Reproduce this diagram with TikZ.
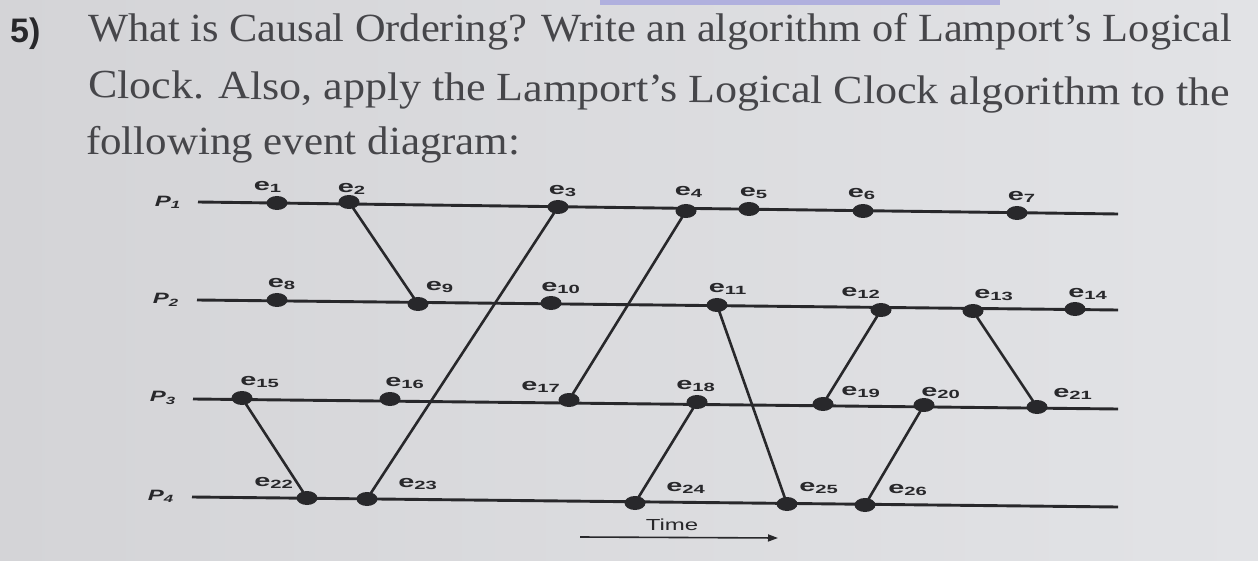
\documentclass[tikz,border=0pt]{standalone}
\usepackage{fontspec}
\usepackage{graphicx}
\setmainfont{Liberation Serif}
\setsansfont{Liberation Sans}
\usetikzlibrary{shapes.geometric,arrows.meta}
\pgfdeclarelayer{paperlayer}
\pgfdeclarelayer{bg}
\pgfsetlayers{paperlayer,bg,main}
\definecolor{paper}{RGB}{212,212,215}
\definecolor{paperR}{RGB}{226,227,230}
\definecolor{ink}{RGB}{40,40,43}
\definecolor{titleink}{RGB}{70,70,74}
\definecolor{lav}{RGB}{176,176,222}
\newcommand\evl[1]{\scalebox{1.7}[1]{e\textsubscript{#1}}}
\newcommand\prl[1]{\scalebox{1.6}[1]{\itshape P\textsubscript{#1}}}
\tikzset{
  dot/.style={ellipse,fill=ink,minimum width=21pt,minimum height=14pt,inner sep=0pt},
  evlab/.style={font=\sffamily\bfseries\fontsize{17}{17}\selectfont,text=ink,inner sep=0pt},
  plab/.style={font=\sffamily\bfseries\fontsize{15}{15}\selectfont,text=ink,inner sep=0pt},
  proc/.style={draw=ink,line width=2.9pt},
  msg/.style={draw=ink,line width=2.6pt},
  ttl/.style={anchor=base west,inner sep=0pt,text=titleink,font=\fontsize{40}{40}\selectfont}
}
\begin{document}
\begin{tikzpicture}[x=1pt,y=-1pt]
\begin{pgfonlayer}{paperlayer}
\shade[left color=paper,right color=paperR] (0,0) rectangle (1258,561);
\fill[lav] (600,0) rectangle (1000,5);
\end{pgfonlayer}
\useasboundingbox (0,0) rectangle (1258,561);
% title
\node[anchor=base west,inner sep=0pt,text=ink,font=\sffamily\bfseries\fontsize{34}{34}\selectfont] (num) at (10,43) {5)};
\node[ttl] (t1) at (88,42) {\resizebox{1144pt}{\height}{What is Causal Ordering? Write an algorithm of Lamport’s Logical}};
\node[ttl,rotate=-0.4] (t2) at (88,98) {\resizebox{1142pt}{\height}{Clock. Also, apply the Lamport’s Logical Clock algorithm to the}};
\node[ttl] (t3) at (86,155) {\resizebox{434pt}{\height}{following event diagram:}};
% process line ends
\coordinate (p1s) at (198,202); \coordinate (p1e) at (1118,214);
\coordinate (p2s) at (197,300); \coordinate (p2e) at (1118,310);
\coordinate (p3s) at (193,399); \coordinate (p3e) at (1118,409);
\coordinate (p4s) at (192,497); \coordinate (p4e) at (1118,507);
\node[plab] (P1) at (168,202) {\prl{1}};
\node[plab] (P2) at (166,300) {\prl{2}};
\node[plab] (P3) at (163,398) {\prl{3}};
\node[plab] (P4) at (161,496) {\prl{4}};
% events
\node[dot] (e1) at (277,203) {};
\node[dot] (e2) at (349,202) {};
\node[dot] (e3) at (558,207) {};
\node[dot] (e4) at (686,211) {};
\node[dot] (e5) at (749,209) {};
\node[dot] (e6) at (863,211) {};
\node[dot] (e7) at (1017,213) {};
\node[dot] (e8) at (277,300) {};
\node[dot] (e9) at (418,304) {};
\node[dot] (e10) at (551,303) {};
\node[dot] (e11) at (717,305) {};
\node[dot] (e12) at (881,310) {};
\node[dot] (e13) at (973,311) {};
\node[dot] (e14) at (1075,309) {};
\node[dot] (e15) at (242,398) {};
\node[dot] (e16) at (390,399) {};
\node[dot] (e17) at (569,400) {};
\node[dot] (e18) at (697,402) {};
\node[dot] (e19) at (823,404) {};
\node[dot] (e20) at (924,405) {};
\node[dot] (e21) at (1037,407) {};
\node[dot] (e22) at (307,498) {};
\node[dot] (e23) at (367,499) {};
\node[dot] (e24) at (635,503) {};
\node[dot] (e25) at (787,504) {};
\node[dot] (e26) at (865,505) {};
% labels
\node[evlab] (l1) at (268,187) {\evl{1}};
\node[evlab] (l2) at (352,189) {\evl{2}};
\node[evlab] (l3) at (563,191) {\evl{3}};
\node[evlab] (l4) at (689,192) {\evl{4}};
\node[evlab] (l5) at (754,193) {\evl{5}};
\node[evlab] (l6) at (862,194) {\evl{6}};
\node[evlab] (l7) at (1022,197) {\evl{7}};
\node[evlab] (l8) at (282,284) {\evl{8}};
\node[evlab] (l9) at (440,287) {\evl{9}};
\node[evlab] (l10) at (561,288) {\evl{10}};
\node[evlab] (l11) at (728,289) {\evl{11}};
\node[evlab] (l12) at (861,293) {\evl{12}};
\node[evlab] (l13) at (994,295) {\evl{13}};
\node[evlab] (l14) at (1088,294) {\evl{14}};
\node[evlab] (l15) at (260,382) {\evl{15}};
\node[evlab] (l16) at (405,383) {\evl{16}};
\node[evlab] (l17) at (541,387) {\evl{17}};
\node[evlab] (l18) at (696,386) {\evl{18}};
\node[evlab] (l19) at (861,392) {\evl{19}};
\node[evlab] (l20) at (941,393) {\evl{20}};
\node[evlab] (l21) at (1073,394) {\evl{21}};
\node[evlab] (l22) at (274,483) {\evl{22}};
\node[evlab] (l23) at (418,484) {\evl{23}};
\node[evlab] (l24) at (686,488) {\evl{24}};
\node[evlab] (l25) at (819,488) {\evl{25}};
\node[evlab] (l26) at (908,490) {\evl{26}};
% time
\node[inner sep=0pt,text=ink,font=\sffamily\fontsize{16}{16}\selectfont] (time) at (672,525) {\scalebox{1.5}[1]{Time}};
\coordinate (ts) at (580,537); \coordinate (te) at (778,538);
\draw[ink,line width=1.6pt,-{Triangle[length=10pt,width=7pt]}] (ts) -- (te);
\begin{pgfonlayer}{bg}
\draw[proc] (p1s) -- (p1e);
\draw[proc] (p2s) -- (p2e);
\draw[proc] (p3s) -- (p3e);
\draw[proc] (p4s) -- (p4e);
\draw[msg] (e2.center) -- (e9.center);
\draw[msg] (e23.center) -- (e3.center);
\draw[msg] (e17.center) -- (e4.center);
\draw[msg] (e11.center) -- (e25.center);
\draw[msg] (e24.center) -- (e18.center);
\draw[msg] (e19.center) -- (e12.center);
\draw[msg] (e26.center) -- (e20.center);
\draw[msg] (e13.center) -- (e21.center);
\draw[msg] (e15.center) -- (e22.center);
\end{pgfonlayer}
\end{tikzpicture}
\end{document}
